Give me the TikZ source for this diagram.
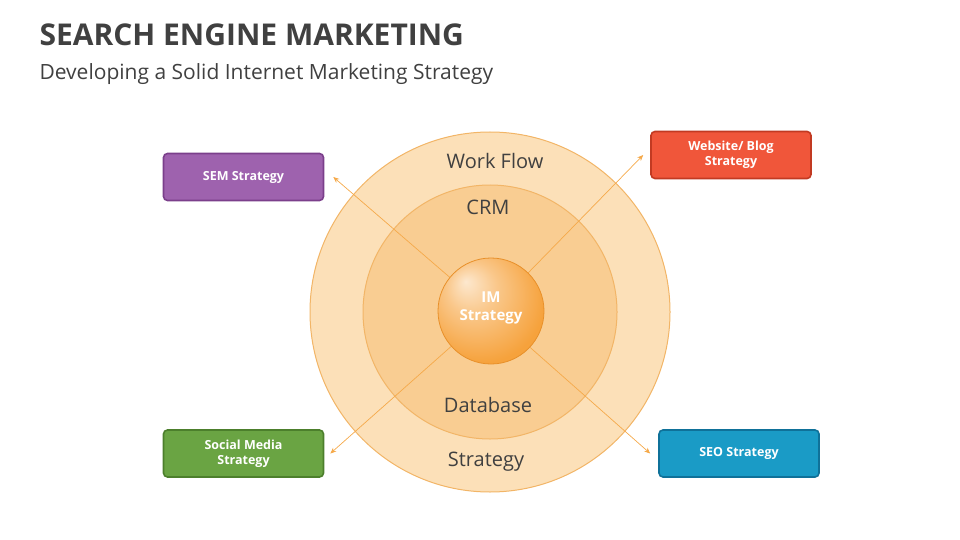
\documentclass[tikz,border=0pt]{standalone}
\usepackage{fontspec}
\setmainfont{Open Sans}
\usetikzlibrary{arrows.meta}
\definecolor{ring1}{HTML}{FCE0B8}
\definecolor{ring2}{HTML}{F9CD92}
\definecolor{ringb}{HTML}{F2B567}
\definecolor{core}{HTML}{F6A23C}
\definecolor{coreb}{HTML}{E8902A}
\definecolor{txt}{HTML}{404040}
\definecolor{purp}{HTML}{9E62AE}\definecolor{purpb}{HTML}{7B3F8B}
\definecolor{redb}{HTML}{F0563A}\definecolor{redbb}{HTML}{C23A22}
\definecolor{grn}{HTML}{6AA443}\definecolor{grnb}{HTML}{4C7F2C}
\definecolor{blu}{HTML}{1A9BC6}\definecolor{blub}{HTML}{0F7199}
\definecolor{arr}{HTML}{F5A94A}
\pgfdeclareradialshading{coreshade}{\pgfpoint{-12bp}{14bp}}{%
 color(0bp)=(core!25!white); color(12bp)=(core!60!white); color(30bp)=(core); color(50bp)=(core)}
\tikzset{
 box/.style={draw, line width=1.6pt, rounded corners=4pt, minimum width=160pt, minimum height=47pt, text=white, font=\bfseries\fontsize{12.5}{15}\selectfont, align=center},
 conn/.style={draw=arr, line width=0.7pt, -{Stealth[length=6pt,width=5pt]}},
 lab/.style={text=txt, font=\fontsize{20}{22}\selectfont}
}
\begin{document}
\begin{tikzpicture}[x=1pt,y=-1pt]
\useasboundingbox (0,0) rectangle (960,540);
\node[anchor=west, font=\bfseries\fontsize{30}{33}\selectfont, text=txt] (title) at (36,35) {SEARCH ENGINE MARKETING};
\node[anchor=west, font=\fontsize{21}{24}\selectfont, text=txt] (sub) at (36,74) {Developing a Solid Internet Marketing Strategy};
\node[circle, draw=ringb, line width=1pt, fill=ring1, minimum size=360pt] (outer) at (490,312) {};
\node[circle, draw=ringb, line width=1pt, fill=ring2, minimum size=254pt] (mid) at (490,312) {};
\coordinate (c) at (490,312);
\node[box, fill=purp, draw=purpb] (sem) at (243.5,177) {SEM Strategy};
\node[box, fill=redb, draw=redbb] (web) at (731,155) {Website/ Blog\\Strategy};
\node[box, fill=grn, draw=grnb] (soc) at (243.5,453.5) {Social Media\\Strategy};
\node[box, fill=blu, draw=blub] (seo) at (739,453.5) {SEO Strategy};
\draw[conn] (c) -- ([xshift=9pt]sem.east);
\draw[conn] (c) -- ([xshift=-7pt]web.west);
\draw[conn] (c) -- ([xshift=6pt]soc.east);
\draw[conn] (c) -- ([xshift=-8pt]seo.west);
\node[circle, draw=coreb, line width=0.8pt, shading=coreshade, minimum size=106pt] (im) at (491,311) {};
\node[text=white, font=\bfseries\fontsize{15}{18}\selectfont, align=center] (iml) at (491,308) {IM\\Strategy};
\node[lab] (wf) at (495,161) {Work Flow};
\node[lab] (crm) at (488,207) {CRM};
\node[lab] (db) at (488,405) {Database};
\node[lab] (st) at (486,462) {Strategy};
\end{tikzpicture}
\end{document}
